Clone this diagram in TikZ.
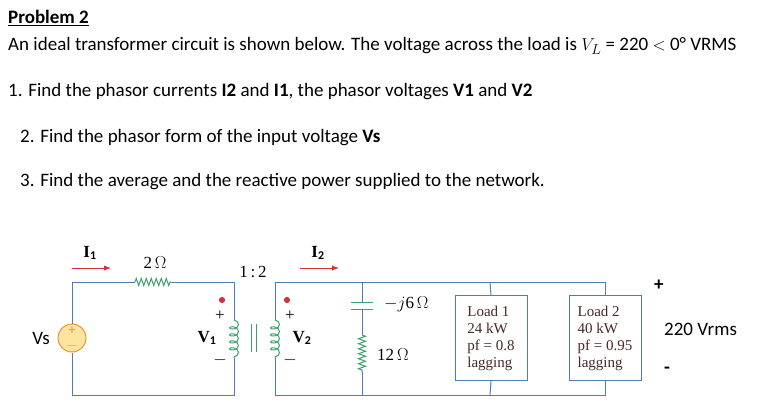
\documentclass[tikz,border=0pt]{standalone}
\usepackage{fontspec}
\setmainfont{Carlito}
\newfontfamily\ckt{Liberation Serif}
\usetikzlibrary{decorations.pathmorphing,arrows.meta}
\definecolor{wire}{RGB}{80,125,175}
\definecolor{elem}{RGB}{60,160,110}
\definecolor{arr}{RGB}{210,50,60}
\definecolor{srcfill}{RGB}{253,228,160}
\definecolor{srcline}{RGB}{235,150,60}
\definecolor{boxtxt}{RGB}{70,40,40}
\tikzset{
  w/.style={draw=wire,line width=1pt},
  res/.style={draw=elem,line width=1pt,decorate,decoration={zigzag,segment length=5pt,amplitude=3.5pt}},
  ind/.style={draw=elem,line width=1pt,decorate,decoration={coil,aspect=0.6,segment length=7pt,amplitude=4.5pt}},
  cur/.style={draw=arr,line width=1pt,-{Latex[length=7pt]}},
  dot/.style={circle,fill=arr,inner sep=2.2pt},
  lbl/.style={font=\ckt\fontsize{17}{17}\selectfont,inner sep=1pt},
  txt/.style={anchor=west,font=\fontsize{19}{20}\selectfont,inner sep=0pt},
  sgn/.style={font=\fontsize{14}{10}\selectfont,text=srcline,inner sep=0pt},
  load/.style={draw=wire,line width=1pt,minimum width=72pt,minimum height=85pt,align=left,inner sep=3pt,
    font=\ckt\fontsize{15}{17}\selectfont,text=boxtxt}
}
\begin{document}
\begin{tikzpicture}[x=1pt,y=-1pt]
  \useasboundingbox (0,0) rectangle (765,406);
  % problem text
  \node[txt] (title) at (8,18) {\underline{\textbf{Problem 2}}};
  \node[txt] (intro) at (8,46) {An ideal transformer circuit is shown below. The voltage across the load is $V_L$ = 220 $<$ 0° VRMS};
  \node[txt] (q1) at (8,92) {1. Find the phasor currents \textbf{I2} and \textbf{I1}, the phasor voltages \textbf{V1} and \textbf{V2}};
  \node[txt] (q2) at (20,138) {2. Find the phasor form of the input voltage \textbf{Vs}};
  \node[txt] (q3) at (20,182) {3. Find the average and the reactive power supplied to the network.};
  % corners
  \coordinate (tl) at (72,282);
  \coordinate (bl) at (72,395);
  \coordinate (ra) at (135,282);
  \coordinate (rb) at (172,282);
  \coordinate (pt) at (234,282);
  \coordinate (pb) at (234,395);
  \coordinate (st) at (275,282);
  \coordinate (sb) at (275,395);
  \coordinate (zt) at (362,282);
  \coordinate (zb) at (362,395);
  \coordinate (lt1) at (490,282);
  \coordinate (lb1) at (490,395);
  \coordinate (lt2) at (605,282);
  \coordinate (lb2) at (605,395);
  % primary
  \node[circle,draw=srcline,fill=srcfill,line width=1pt,minimum size=28pt,inner sep=0pt] (vs) at (72,338) {};
  \node[sgn] (vsp) at (72,331) {+};
  \node[sgn] (vsm) at (72,346) {$-$};
  \node[txt,anchor=east] (vsl) at (50,338) {Vs};
  \draw[w] (vs) -- (tl) -- (ra);
  \draw[res] (ra) -- (rb);
  \draw[w] (rb) -- (pt) -- (234,320);
  \draw[ind] (234,320) -- (234,358);
  \draw[w] (234,358) -- (pb) -- (bl) -- (vs);
  \node[lbl] (r1) at (155,263) {2\,$\Omega$};
  \draw[cur] (72,268) -- (111,268);
  \node[lbl] (i1) at (90,253) {\textbf{I}$_\mathbf{1}$};
  \node[dot] (d1) at (222,300) {};
  \node[lbl] (p1) at (220,316) {+};
  \node[lbl] (v1) at (207,338) {\textbf{V}$_\mathbf{1}$};
  \node[lbl] (m1) at (220,360) {$-$};
  % core
  \draw[draw=elem,line width=1pt] (251,324) -- (251,352) (256,324) -- (256,352);
  \node[lbl] (ratio) at (253,272) {1\,:\,2};
  % secondary
  \draw[w] (275,320) -- (st) -- (lt2) -- (605,296);
  \draw[ind] (275,320) -- (275,358);
  \draw[w] (275,358) -- (sb) -- (lb2) -- (605,381);
  \node[dot] (d2) at (287,300) {};
  \node[lbl] (p2) at (290,316) {+};
  \node[lbl] (v2) at (302,338) {\textbf{V}$_\mathbf{2}$};
  \node[lbl] (m2) at (290,360) {$-$};
  \draw[cur] (300,268) -- (339,268);
  \node[lbl] (i2) at (318,253) {\textbf{I}$_\mathbf{2}$};
  % RC branch
  \draw[w] (zt) -- (362,302) (362,309) -- (362,335) (362,372) -- (zb);
  \draw[draw=elem,line width=1pt] (351,302) -- (373,302) (351,309) -- (373,309);
  \draw[res] (362,335) -- (362,372);
  \node[lbl,anchor=west] (xc) at (383,304) {$-j$6\,$\Omega$};
  \node[lbl,anchor=west] (rl) at (376,355) {12\,$\Omega$};
  % loads
  \node[load] (load1) at (491,338) {Load 1\\24 kW\\pf = 0.8\\lagging};
  \node[load] (load2) at (605,338) {Load 2\\40 kW\\pf = 0.95\\lagging};
  \draw[w] (lt1) -- (load1.north) (load1.south) -- (lb1);
  % output voltage
  \node[txt] (vp) at (654,285) {\textbf{+}};
  \node[txt] (vl) at (664,329) {220 Vrms};
  \node[txt] (vm) at (664,370) {\textbf{-}};
\end{tikzpicture}
\end{document}
